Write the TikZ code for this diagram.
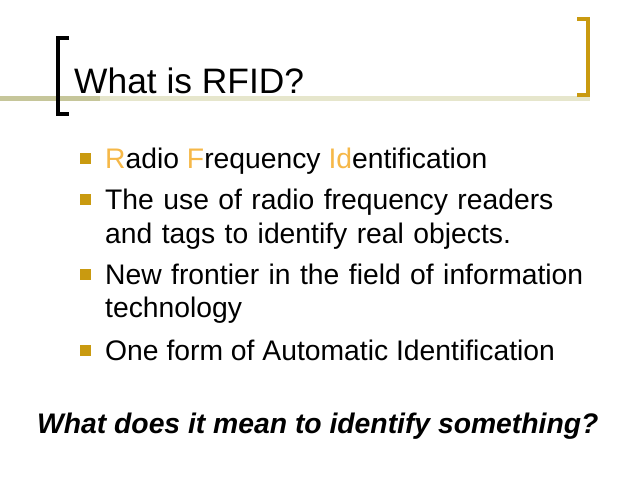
\documentclass[tikz,border=0pt]{standalone}
\usepackage{fontspec}
\setmainfont{Liberation Sans}
\definecolor{oliveA}{HTML}{C6C69A}
\definecolor{oliveB}{HTML}{E6E6CC}
\definecolor{gold}{HTML}{C99A10}
\definecolor{hl}{HTML}{F6B848}
\begin{document}
\begin{tikzpicture}[x=1bp,y=-1bp,
  txt/.style={anchor=base west,inner sep=0,font=\fontsize{28.4}{33.5}\selectfont},
  bul/.style={fill=gold,minimum size=11bp,inner sep=0}]
\useasboundingbox (0,0) rectangle (638,478);
\fill[white] (0,0) rectangle (638,478);
\fill[oliveB] (100,96) rectangle (590,101);
\fill[oliveA] (0,96) rectangle (100,101);
\draw[line width=4bp] (69,38) -- (58,38) -- (58,114) -- (69,114);
\draw[gold,line width=4bp] (577,19) -- (588,19) -- (588,95) -- (577,95);
\node[anchor=base west,inner sep=0,font=\fontsize{35.5}{40}\selectfont] (title) at (74,94) {What is RFID?};
\node[bul] (b1) at (85,159) {};
\node[txt] (t1) at (105,169) {\textcolor{hl}{R}adio \textcolor{hl}{F}requency \textcolor{hl}{Id}entification};
\node[bul] (b2) at (85,200) {};
\node[txt,align=left,text width=520bp] (t2) at (105,210) {The use of radio frequency readers\\and tags to identify real objects.};
\node[bul] (b3) at (85,274) {};
\node[txt,align=left,text width=520bp] (t3) at (105,284) {New frontier in the field of information\\technology};
\node[bul] (b4) at (85,350) {};
\node[txt] (t4) at (105,360) {One form of Automatic Identification};
\node[txt,font=\fontsize{28.4}{33}\selectfont\bfseries\itshape] (q) at (37,433) {What does it mean to identify something?};
\end{tikzpicture}
\end{document}
